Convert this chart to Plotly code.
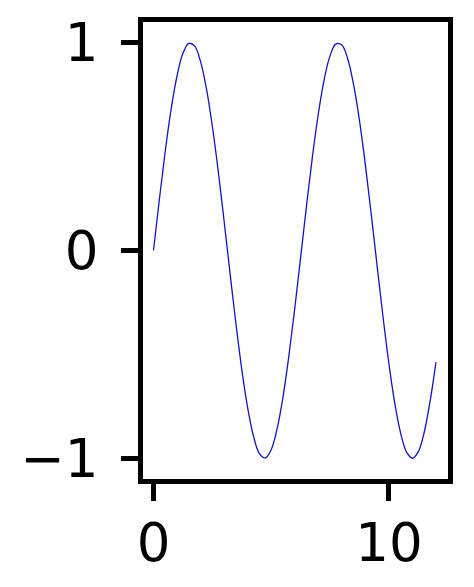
import plotly.graph_objects as go

x_values = [0.0, 0.25, 0.5, 0.75, 1.0, 1.25, 1.5, 1.75, 2.0, 2.25, 2.5, 2.75,
            3.0, 3.25, 3.5, 3.75, 4.0, 4.25, 4.5, 4.75, 5.0, 5.25, 5.5, 5.75,
            6.0, 6.25, 6.5, 6.75, 7.0, 7.25, 7.5, 7.75, 8.0, 8.25, 8.5, 8.75,
            9.0, 9.25, 9.5, 9.75, 10.0, 10.25, 10.5, 10.75, 11.0, 11.25, 11.5,
            11.75, 12.0]
y_values = [0.0, 0.247, 0.479, 0.682, 0.841, 0.949, 0.997, 0.984, 0.909, 0.778,
            0.598, 0.382, 0.141, -0.108, -0.351, -0.572, -0.757, -0.895, -0.978,
            -0.999, -0.959, -0.859, -0.706, -0.508, -0.279, -0.033, 0.215, 0.451,
            0.657, 0.823, 0.938, 0.995, 0.989, 0.923, 0.798, 0.625, 0.412, 0.174,
            -0.075, -0.320, -0.544, -0.736, -0.880, -0.971, -1.000, -0.968,
            -0.875, -0.725, -0.537]
x_ticks = [0, 10]
x_tick_labels = ["0", "10"]
y_ticks = [-1, 0, 1]
y_tick_labels = ["\u22121", "0", "1"]

fig = go.Figure(go.Scatter(x=x_values, y=y_values, mode="lines",
                           line=dict(color="#1414bc", width=1.3, shape="spline")))

axis_common = dict(showline=True, linecolor="black", linewidth=5, mirror=True,
                   ticks="outside", ticklen=17, tickwidth=5, tickcolor="black",
                   showgrid=False, zeroline=False, automargin=False,
                   tickfont=dict(family="DejaVu Sans", size=53, color="black"))
fig.update_xaxes(range=[-0.446, 12.51], tickvals=x_ticks, ticktext=x_tick_labels,
                 ticklabelstandoff=-4, **axis_common)
fig.update_yaxes(range=[-1.1, 1.1], tickvals=y_ticks, ticktext=y_tick_labels,
                 ticklabelstandoff=12, **axis_common)
# the page body has an 8px margin, so the figure is sized to fill the window
fig.update_layout(width=466, height=579, showlegend=False,
                  margin=dict(l=135, r=26, t=14, b=108),
                  paper_bgcolor="white", plot_bgcolor="white")
fig.write_html("out.html")
